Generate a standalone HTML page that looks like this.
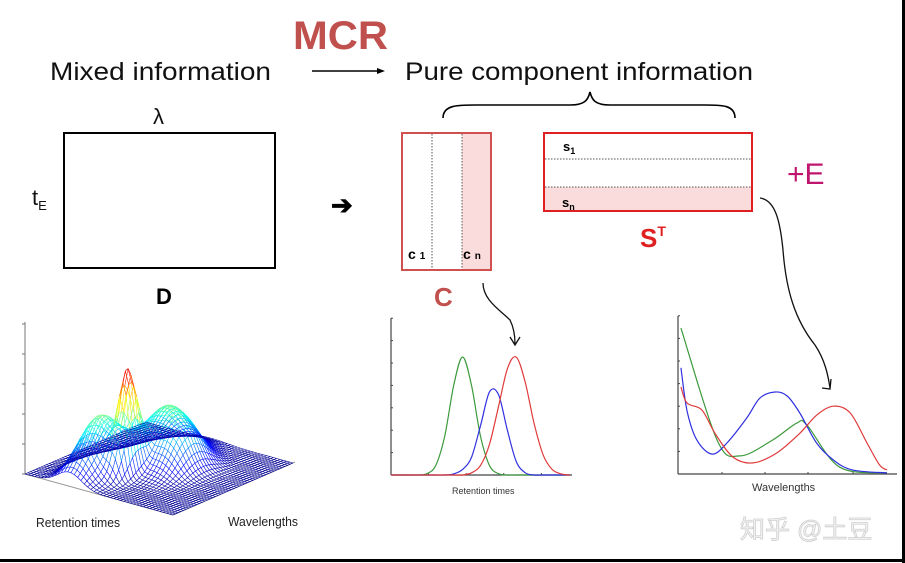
<!DOCTYPE html>
<html><head><meta charset="utf-8"><style>
html,body{margin:0;padding:0;background:#fff;}
svg{display:block;font-family:"Liberation Sans","Noto Sans CJK SC",sans-serif;}
</style></head><body>
<svg id="s" width="905" height="563" viewBox="0 0 905 563">
<rect x="0" y="0" width="905" height="563" fill="#fff"/>
<rect x="902" y="0" width="3" height="563" fill="#000"/>
<rect x="0" y="559" width="905" height="3" fill="#000"/>
<text x="293" y="49" font-size="40" font-weight="bold" fill="#c0504d" textLength="95" lengthAdjust="spacingAndGlyphs">MCR</text>
<text x="50" y="80" font-size="25" fill="#111" textLength="221" lengthAdjust="spacingAndGlyphs">Mixed information</text>
<g><line x1="312" y1="71" x2="380" y2="71" stroke="#000" stroke-width="1.5"/><polygon points="385,71 377,68 377,74" fill="#000"/></g>
<text x="405" y="80" font-size="25" fill="#111" textLength="348" lengthAdjust="spacingAndGlyphs">Pure component information</text>
<path d="M443,118 C443,104 460,105 480,105 L570,105 C585,105 588,100 590,92 C592,100 595,105 610,105 L700,105 C720,105 735,104 735,118" fill="none" stroke="#000" stroke-width="1.6"/>
<text x="153" y="124" font-size="22" fill="#111">λ</text>
<rect x="64" y="133" width="211" height="135" fill="none" stroke="#000" stroke-width="2"/>
<text x="32" y="205" font-size="22" fill="#111">t<tspan font-size="13" dy="5">E</tspan></text>
<text x="156" y="304" font-size="22" font-weight="bold" fill="#000">D</text>
<text x="331" y="214" font-size="26" font-weight="bold" fill="#000">➔</text>
<g>
<rect x="462" y="133" width="29" height="137" fill="#fbdcdc"/>
<rect x="402" y="133" width="89" height="137" fill="none" stroke="#d05050" stroke-width="2"/>
<line x1="432" y1="134" x2="432" y2="269" stroke="#555" stroke-dasharray="1.5,1.5"/>
<line x1="462" y1="134" x2="462" y2="269" stroke="#555" stroke-dasharray="1.5,1.5"/>
<text x="408" y="259" font-size="14" font-weight="bold">c <tspan font-size="10">1</tspan></text>
<text x="463" y="259" font-size="14" font-weight="bold">c <tspan font-size="10">n</tspan></text>
</g>
<g>
<rect x="544" y="187" width="208" height="24" fill="#fbdcdc"/>
<rect x="544" y="133" width="208" height="78" fill="none" stroke="#e02020" stroke-width="2"/>
<line x1="545" y1="159" x2="751" y2="159" stroke="#555" stroke-dasharray="1.5,1.5"/>
<line x1="545" y1="187" x2="751" y2="187" stroke="#555" stroke-dasharray="1.5,1.5"/>
<text x="563" y="151" font-size="13" font-weight="bold">s<tspan font-size="9" dy="3">1</tspan></text>
<text x="562" y="207" font-size="13" font-weight="bold">s<tspan font-size="9" dy="3">n</tspan></text>
</g>
<text x="640" y="247" font-size="26" font-weight="bold" fill="#e02020">S<tspan font-size="14" dy="-11">T</tspan></text>
<text x="434" y="306" font-size="26" font-weight="bold" fill="#c0504d">C</text>
<text x="787" y="184" font-size="30" fill="#c0156e">+E</text>
<g fill="none" stroke="#111" stroke-width="1.3">
<path d="M483,283 C483,300 500,310 510,320 C514,328 515,336 515,344"/><path d="M510,337 L515,345 L520,337"/></g>
<g fill="none" stroke="#111" stroke-width="1.3">
<path d="M760,198 C775,200 780,220 783,250 C786,290 795,320 815,345 C825,360 828,375 830,388"/><path d="M822,388 L830,389 L831,379"/></g>
<g id="surf"></g>
<text x="36" y="527" font-size="13" fill="#222" textLength="84" lengthAdjust="spacingAndGlyphs">Retention times</text>
<text x="228" y="526" font-size="13" fill="#222" textLength="70" lengthAdjust="spacingAndGlyphs">Wavelengths</text>
<g id="chrom"></g>
<text x="452" y="494" font-size="9" fill="#333">Retention times</text>
<g id="spec"></g>
<text x="752" y="491" font-size="11" fill="#333">Wavelengths</text>
<text x="740" y="538" font-size="25" fill="#f4f4f4" stroke="#cfcfcf" stroke-width="0.8">知乎 @土豆</text>
</svg>
<script>
// Chromatogram data (retention units 0..100, intensity units 0..7)
const chromX = [0,5,10,15,20,25,30,35,40,45,50,55,60,65,70,75,80,85,90,95,100];
const chromGreen = [0,0,0,0,0.06,0.43,1.73,3.98,5.27,3.98,1.73,0.43,0.06,0,0,0,0,0,0,0,0];
const chromBlue = [0,0,0,0,0,0,0,0.05,0.25,0.8,2.2,3.7,3.6,2.0,0.6,0.1,0,0,0,0,0];
const chromRed = [0,0,0,0,0,0,0,0,0,0.1,0.43,1.36,3.03,4.74,5.26,4.13,2.28,0.9,0.25,0.05,0];
// Spectra data (wavelength units 0..100, intensity 0..7)
const specGreenX = [1.4,18.6,29.5,45,56.7,61.4,77,99.5];
const specGreenY = [6.46,1.5,0.8,1.5,2.26,2.17,0.3,0.05];
const specBlueX = [1.4,4.3,9,16.2,23.3,32.9,39,46.2,52,58,66,74,83,99.5];
const specBlueY = [4.7,2.8,1.5,0.88,1.37,2.5,3.36,3.63,3.45,2.7,1.37,0.62,0.18,0.05];
const specRedX = [1.4,4.3,11.4,17.6,26.2,35.7,47,58,66,74,82,90,96,99.5];
const specRedY = [3.85,3.14,2.83,1.8,0.75,0.49,0.93,1.8,2.6,3.0,2.7,1.37,0.4,0.18];
// Surface peaks (u=retention, v=wavelength, height, widths)
const peakU = [0.3,0.45,0.45,0.62];
const peakV = [0.25,0.3,0.62,0.55];
const peakH = [0.38,0.62,0.34,0.26];
const peakSU = [0.08,0.035,0.1,0.08];
const peakSV = [0.15,0.07,0.15,0.12];

const NS='http://www.w3.org/2000/svg';
function mk(t,a,p){const e=document.createElementNS(NS,t);for(const k in a)e.setAttribute(k,a[k]);p.appendChild(e);return e;}
function spline(pts){let d='M'+pts[0][0]+','+pts[0][1];for(let i=0;i<pts.length-1;i++){const p0=pts[Math.max(0,i-1)],p1=pts[i],p2=pts[i+1],p3=pts[Math.min(pts.length-1,i+2)];
const c1x=p1[0]+(p2[0]-p0[0])/6,c1y=p1[1]+(p2[1]-p0[1])/6,c2x=p2[0]-(p3[0]-p1[0])/6,c2y=p2[1]-(p3[1]-p1[1])/6;
d+=` C${c1x.toFixed(1)},${c1y.toFixed(1)} ${c2x.toFixed(1)},${c2y.toFixed(1)} ${p2[0].toFixed(1)},${p2[1].toFixed(1)}`;}return d;}

function axes(g,x0,x1,y0,y1,xt,yt){
  mk('line',{x1:x0,y1:y0,x2:x0,y2:y1,stroke:'#444','stroke-width':1.2},g);
  mk('line',{x1:x0,y1:y0,x2:x1,y2:y0,stroke:'#444','stroke-width':1.2},g);
  xt.forEach(x=>mk('line',{x1:x,y1:y0,x2:x,y2:y0-2,stroke:'#444'},g));
  yt.forEach(y=>mk('line',{x1:x0,y1:y,x2:x0+2,y2:y,stroke:'#444'},g));
}
(function(){
  const g=document.getElementById('chrom');
  const sx=v=>391+v*1.79, sy=v=>475-v*22.4;
  const xt=[],yt=[];for(let i=1;i<=4;i++)xt.push(sx(i*21));for(let i=1;i<=7;i++)yt.push(sy(i));
  axes(g,391,572,475,318,xt,yt);
  [[chromGreen,'#3c9a3c','chrom-green-line'],[chromBlue,'#3030e0','chrom-blue-line'],[chromRed,'#e03a3a','chrom-red-line']].forEach(s=>{
    const p=mk('path',{d:spline(chromX.map((x,i)=>[sx(x),sy(s[0][i])])),fill:'none',stroke:s[1],'stroke-width':1.2},g);
    
    
  });
})();
(function(){
  const g=document.getElementById('spec');
  const sx=v=>678+v*2.1, sy=v=>474-v*22.6;
  const xt=[722,765,808,853],yt=[];for(let i=1;i<=7;i++)yt.push(sy(i));
  axes(g,678,897,474,316,xt,yt);
  [[specGreenX,specGreenY,'#3c9a3c','spec-green-line'],[specBlueX,specBlueY,'#3030e0','spec-blue-line'],[specRedX,specRedY,'#e03a3a','spec-red-line']].forEach(s=>{
    const p=mk('path',{d:spline(s[0].map((x,i)=>[sx(x),sy(s[1][i])])),fill:'none',stroke:s[2],'stroke-width':1.2},g);
    
    
  });
})();
(function(){
  const g=document.getElementById('surf');
  const L=[25,474],FU=[148,41],RV=[120,-52],Z=150;
  const h=(u,v)=>{let s=0;for(let k=0;k<peakU.length;k++){s+=peakH[k]*Math.exp(-((u-peakU[k])**2)/(2*peakSU[k]**2)-((v-peakV[k])**2)/(2*peakSV[k]**2));}return s;};
  const P=(u,v)=>{const z=h(u,v);return [L[0]+u*FU[0]+v*RV[0], L[1]+u*FU[1]+v*RV[1]-z*Z, z];};
  function jet(t){t=Math.min(1,0.02+t/0.8);const r=Math.max(0,Math.min(1,1.5-Math.abs(4*t-3))),gg=Math.max(0,Math.min(1,1.5-Math.abs(4*t-2))),b=Math.max(0,Math.min(1,1.5-Math.abs(4*t-1)));return `rgb(${r*255|0},${gg*255|0},${b*255|0})`;}
  mk('line',{x1:25,y1:474,x2:25,y2:322,stroke:'#777'},g);
  for(let i=0;i<6;i++)mk('line',{x1:22,y1:474-i*30,x2:25,y2:474-i*30,stroke:'#777'},g);
  mk('line',{x1:25,y1:474,x2:173,y2:515,stroke:'#999'},g);
  mk('line',{x1:173,y1:515,x2:295,y2:462,stroke:'#999'},g);
  const N=45;
  for(let i=0;i<=N;i++){for(let j=0;j<N;j++){
    const u=i/N,v1=j/N,v2=(j+1)/N;
    const a=P(u,v1),b=P(u,v2);
    mk('line',{x1:a[0].toFixed(1),y1:a[1].toFixed(1),x2:b[0].toFixed(1),y2:b[1].toFixed(1),stroke:jet((a[2]+b[2])/2),'stroke-width':0.6},g);
    const c=P(v1,u),d=P(v2,u);
    mk('line',{x1:c[0].toFixed(1),y1:c[1].toFixed(1),x2:d[0].toFixed(1),y2:d[1].toFixed(1),stroke:jet((c[2]+d[2])/2),'stroke-width':0.6},g);
  }}
})();
</script>
</body></html>
